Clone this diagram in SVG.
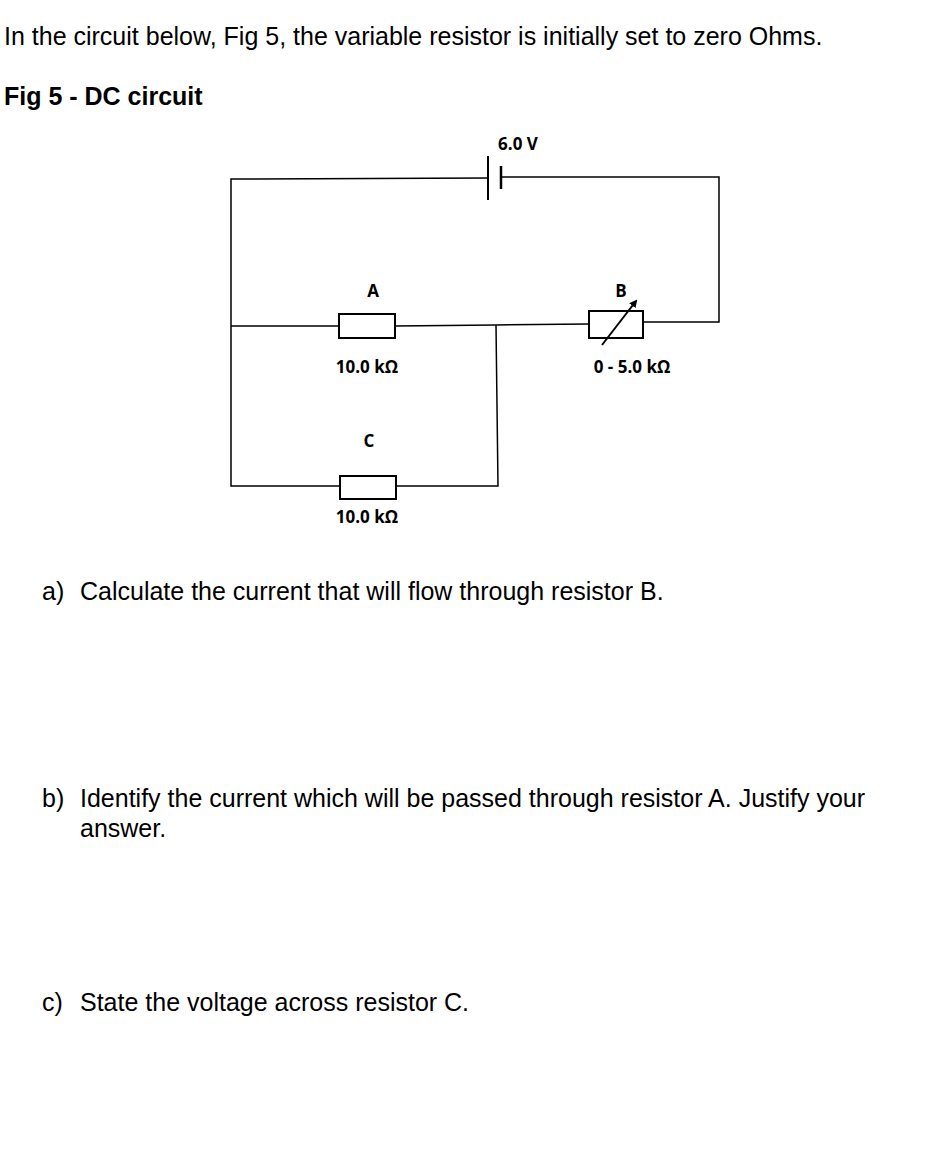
<svg xmlns="http://www.w3.org/2000/svg" width="948" height="1172" viewBox="0 0 948 1172">
<style>
.t{font-family:"Liberation Sans",Arial,sans-serif;font-size:25px;fill:#000}
.l{font-family:"Open Sans","Liberation Sans",sans-serif;font-size:17px;font-weight:bold;fill:#000;text-anchor:middle}
.w{fill:none;stroke:#000;stroke-width:1.5}
.r{fill:#fff;stroke:#000;stroke-width:2}
</style>
<defs><marker id="ah" markerWidth="8" markerHeight="8" refX="6" refY="4" orient="auto" markerUnits="userSpaceOnUse"><path d="M0,0 L8,4 L0,8 z" fill="#000"/></marker></defs>
<rect width="948" height="1172" fill="#fff"/>
<text class="t" x="4" y="45">In the circuit below, Fig 5, the variable resistor is initially set to zero Ohms.</text>
<text class="t" x="4" y="105" font-weight="bold">Fig 5 - DC circuit</text>
<g id="connectors">
<polyline class="w" points="488,178 231,179 231,486 340,486"/>
<polyline class="w" points="501,177 719,177 719,322 643,322"/>
<polyline class="w" points="231,326 339,326"/>
<polyline class="w" points="395,326 496,325 589,324"/>
<polyline class="w" points="496,325 498,486 396,486"/>
</g>
<g id="battery">
<line x1="488" y1="156" x2="488" y2="200" stroke="#000" stroke-width="2"/>
<line x1="501" y1="166" x2="501" y2="189" stroke="#000" stroke-width="2.5"/>
<text class="l" x="518" y="150">6.0 V</text>
</g>
<g id="A"><rect class="r" x="339" y="314" width="56" height="24"/><text class="l" x="373" y="297">A</text><text class="l" x="367" y="373">10.0 kΩ</text></g>
<g id="B"><rect class="r" x="589" y="311" width="54" height="27"/><line x1="602" y1="345" x2="636" y2="301" stroke="#000" stroke-width="2" marker-end="url(#ah)"/><text class="l" x="621" y="297">B</text><text class="l" x="632" y="373">0 - 5.0 kΩ</text></g>
<g id="C"><rect class="r" x="340" y="476" width="56" height="23"/><text class="l" x="369" y="447">C</text><text class="l" x="367" y="523">10.0 kΩ</text></g>
<text class="t" x="42" y="600">a)</text><text class="t" x="80" y="600">Calculate the current that will flow through resistor B.</text>
<text class="t" x="42" y="807">b)</text><text class="t" x="80" y="807">Identify the current which will be passed through resistor A. Justify your</text>
<text class="t" x="80" y="837">answer.</text>
<text class="t" x="42" y="1011">c)</text><text class="t" x="80" y="1011">State the voltage across resistor C.</text>
</svg>
